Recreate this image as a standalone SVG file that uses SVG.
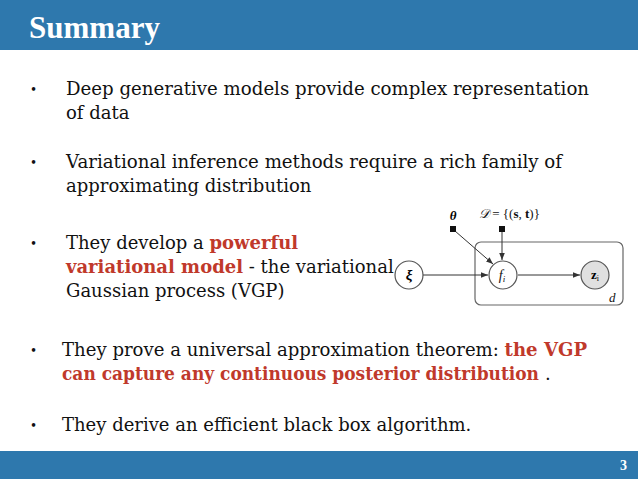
<svg xmlns="http://www.w3.org/2000/svg" width="638" height="479" viewBox="0 0 638 479">
<style>
.t{font-family:"DejaVu Serif","Liberation Serif",serif;font-size:18px;fill:#111}
.b{font-size:12px}
.r{fill:#c0392b;font-weight:bold}
.n{fill:#fff;stroke:#555;stroke-width:1.2}
.e{stroke:#333;stroke-width:1;fill:none;marker-end:url(#a)}
.m{font-family:"Liberation Serif",serif;font-style:italic;fill:#111}
</style>
<defs><marker id="a" viewBox="0 0 10 10" refX="10" refY="5" markerWidth="7" markerHeight="7" orient="auto"><path d="M0,1L10,5L0,9z" fill="#333"/></marker></defs>
<rect x="0" y="0" width="638" height="50" fill="#2e78ad"/>
<text x="29" y="38" font-family="Liberation Serif,serif" font-weight="bold" font-size="31" fill="#fff">Summary</text>
<rect x="0" y="451" width="638" height="28" fill="#2e78ad"/>
<text x="620" y="470" font-family="Liberation Serif,serif" font-weight="bold" font-size="14" fill="#fff">3</text>
<g class="t">
<text class="b" x="30" y="94">•</text><text x="66" y="95" textLength="523" lengthAdjust="spacingAndGlyphs">Deep generative models provide complex representation</text>
<text x="66" y="119">of data</text>
<text class="b" x="30" y="167">•</text><text x="66" y="168" textLength="496" lengthAdjust="spacingAndGlyphs">Variational inference methods require a rich family of</text>
<text x="66" y="192">approximating distribution</text>
<text class="b" x="30" y="248">•</text><text x="66" y="249">They develop a <tspan class="r">powerful</tspan></text>
<text x="66" y="273"><tspan class="r">variational model</tspan> - the variational</text>
<text x="66" y="297">Gaussian process (VGP)</text>
<text class="b" x="30" y="355">•</text><text x="62" y="356" textLength="525" lengthAdjust="spacingAndGlyphs">They prove a universal approximation theorem: <tspan class="r">the VGP</tspan></text>
<text x="62" y="380" class="r" textLength="477" lengthAdjust="spacingAndGlyphs">can capture any continuous posterior distribution</text><text x="545" y="380">.</text>
<text class="b" x="30" y="430">•</text><text x="62" y="431">They derive an efficient black box algorithm.</text>
</g>
<g id="plate"><rect x="475" y="242" width="148" height="63" rx="6" fill="none" stroke="#666" stroke-width="1.2"/><text class="m" x="609" y="302" font-size="13">d</text></g>
<g id="conn">
<line class="e" x1="423" y1="275" x2="488" y2="275"/>
<line class="e" x1="518" y1="275" x2="580" y2="275"/>
<line class="e" x1="455" y1="231" x2="493" y2="264"/>
<line class="e" x1="502" y1="232" x2="502" y2="260"/>
</g>
<g id="xi"><circle class="n" cx="409" cy="275" r="14"/><text x="409" y="280" text-anchor="middle" font-family="Liberation Serif,serif" font-weight="bold" font-style="italic" font-size="15">ξ</text></g>
<g id="f"><circle class="n" cx="503" cy="275" r="14"/><text class="m" x="502" y="280" text-anchor="middle" font-size="14">f<tspan font-size="9" dy="2">i</tspan></text></g>
<g id="z"><circle cx="595" cy="275" r="14" fill="#e0e0e0" stroke="#555" stroke-width="1.2"/><text x="595" y="279" text-anchor="middle" font-family="Liberation Serif,serif" font-weight="bold" font-size="13">z<tspan font-size="8" dy="2" font-weight="normal">i</tspan></text></g>
<g id="theta"><rect x="450" y="226" width="6" height="6" fill="#111"/><text x="453" y="220" text-anchor="middle" font-family="Liberation Serif,serif" font-weight="bold" font-style="italic" font-size="13">θ</text></g>
<g id="D"><rect x="499" y="226" width="6" height="6" fill="#111"/><text x="479" y="218" font-family="Liberation Serif,serif" font-size="13" fill="#111"><tspan font-style="italic">𝒟</tspan> = {(<tspan font-weight="bold">s</tspan>, <tspan font-weight="bold">t</tspan>)}</text></g>
</svg>
